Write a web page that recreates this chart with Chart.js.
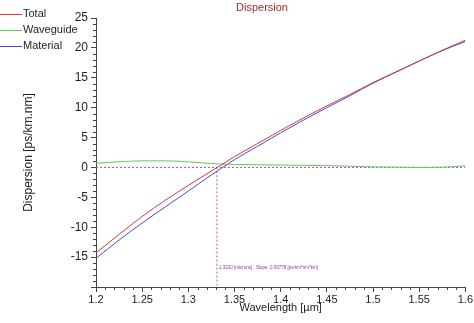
<!DOCTYPE html>
<html>
<head>
<meta charset="utf-8">
<script src="https://cdn.jsdelivr.net/npm/chart.js@4"></script>
<style>
  body { margin: 0; background: #fff; }
  #wrap { width: 474px; height: 323px; position: relative; }
</style>
</head>
<body>
<div id="wrap"><canvas id="myChart"></canvas></div>
<script>
// wavelength in µm
let wavelength = [1.2, 1.225, 1.25, 1.275, 1.3, 1.325, 1.35, 1.375, 1.4, 1.425, 1.45, 1.475, 1.5, 1.525, 1.55, 1.575, 1.6];
let totalD     = [-14.3, -11.2, -8.2, -5.5, -3.0, -0.6, 1.8, 4.0, 6.2, 8.3, 10.3, 12.2, 14.2, 16.0, 17.8, 19.6, 21.3];
let waveguideD = [0.7, 0.95, 1.1, 1.1, 0.95, 0.65, 0.5, 0.45, 0.4, 0.35, 0.3, 0.2, 0.1, 0.05, 0.0, 0.05, 0.25];
let materialD  = [-15.2, -12.15, -9.3, -6.6, -3.95, -1.25, 1.3, 3.55, 5.8, 7.95, 10.0, 12.0, 14.1, 15.95, 17.8, 19.55, 21.05];

// zero dispersion marker
let zeroLineX = [1.2, 1.6];
let zeroLineY = [0, 0];
let markerX = [1.331, 1.331];
let markerY = [0, -20];
let markerText = "1.3310 [microns] , Slope: 0.09778 [ps/nm*nm*km]";

let seriesNames = ["Total", "Waveguide", "Material"];
let seriesColors = ["#d23a3a", "#5cc95c", "#4a4ad0"];

function pts(xs, ys) {
  return xs.map(function(v, i) { return {x: v, y: ys[i]}; });
}

const extras = {
  id: 'extras',
  afterDraw(chart) {
    const ctx = chart.ctx;
    const xs = chart.scales.x, ys = chart.scales.y;
    ctx.save();
    // minor ticks
    ctx.strokeStyle = '#444';
    ctx.lineWidth = 1;
    ctx.beginPath();
    for (let i = 1; i < 40; i++) {
      if (i % 5 === 0) continue;
      const px = Math.round(xs.getPixelForValue(1.2 + i * 0.01)) + 0.5;
      ctx.moveTo(px, ys.bottom);
      ctx.lineTo(px, ys.bottom + 3);
    }
    for (let v = -19; v < 25; v++) {
      if (v % 5 === 0) continue;
      const py = Math.round(ys.getPixelForValue(v)) + 0.5;
      ctx.moveTo(xs.left, py);
      ctx.lineTo(xs.left - 3, py);
    }
    ctx.stroke();

    // title
    ctx.fillStyle = '#9a2a2e';
    ctx.font = '11px "Liberation Sans", Arial, sans-serif';
    ctx.textAlign = 'center';
    ctx.textBaseline = 'middle';
    ctx.fillText('Dispersion', 262, 8);

    // legend
    ctx.textAlign = 'left';
    ctx.fillStyle = '#222';
    for (let i = 0; i < 3; i++) {
      const ly = 14 + i * 16;
      ctx.strokeStyle = seriesColors[i];
      ctx.beginPath();
      ctx.moveTo(0, ly + 0.5);
      ctx.lineTo(22, ly + 0.5);
      ctx.stroke();
      ctx.fillText(seriesNames[i], 23, ly);
    }

    // marker text
    ctx.fillStyle = '#8a3a8a';
    ctx.font = '4.5px "Liberation Sans", Arial, sans-serif';
    ctx.fillText(markerText, xs.getPixelForValue(markerX[0]) + 2, ys.getPixelForValue(-16.7));
    ctx.restore();
  }
};

new Chart(document.getElementById('myChart'), {
  type: 'line',
  data: {
    datasets: [
      { label: seriesNames[0], data: pts(wavelength, totalD), borderColor: seriesColors[0] },
      { label: seriesNames[1], data: pts(wavelength, waveguideD), borderColor: seriesColors[1] },
      { label: seriesNames[2], data: pts(wavelength, materialD), borderColor: seriesColors[2] },
      { label: 'zero', data: pts(zeroLineX, zeroLineY), borderColor: '#c04cc0', borderDash: [2, 2], tension: 0 },
      { label: 'marker', data: pts(markerX, markerY), borderColor: '#c04cc0', borderDash: [2, 2], tension: 0 }
    ]
  },
  options: {
    responsive: true,
    maintainAspectRatio: false,
    animation: false,
    layout: { padding: { left: 0, right: 8, top: 18, bottom: 0 } },
    elements: {
      line: { borderWidth: 1, tension: 0.4, cubicInterpolationMode: 'monotone' },
      point: { radius: 0 }
    },
    plugins: {
      legend: { display: false },
      tooltip: { enabled: false },
      title: { display: false }
    },
    scales: {
      x: {
        type: 'linear',
        min: 1.2,
        max: 1.6,
        afterFit: function(s) { s.height = 36; },
        ticks: {
          stepSize: 0.05,
          color: '#222',
          padding: 1,
          maxRotation: 0,
          font: { size: 11, family: '"Liberation Sans", Arial, sans-serif' },
          callback: function(v) { return String(Number(v.toFixed(2))); }
        },
        grid: { drawOnChartArea: false, tickLength: 5, color: '#444' },
        border: { color: '#444' },
        title: {
          display: true,
          text: 'Wavelength [µm]',
          color: '#222',
          padding: { top: 8, bottom: 8 },
          font: { size: 11, family: '"Liberation Sans", Arial, sans-serif' }
        }
      },
      y: {
        min: -20,
        max: 25,
        afterFit: function(s) { s.width = 96; },
        ticks: {
          stepSize: 5,
          color: '#222',
          padding: 3,
          font: { size: 12, family: '"Liberation Sans", Arial, sans-serif' },
          callback: function(v) { return v === -20 ? '' : v; }
        },
        grid: { drawOnChartArea: false, tickLength: 5, color: '#444' },
        border: { color: '#444' },
        title: {
          display: true,
          text: 'Dispersion [ps/km.nm]',
          color: '#222',
          padding: { top: 21, bottom: 21 },
          font: { size: 12, family: '"Liberation Sans", Arial, sans-serif' }
        }
      }
    }
  },
  plugins: [extras]
});
</script>
</body>
</html>
